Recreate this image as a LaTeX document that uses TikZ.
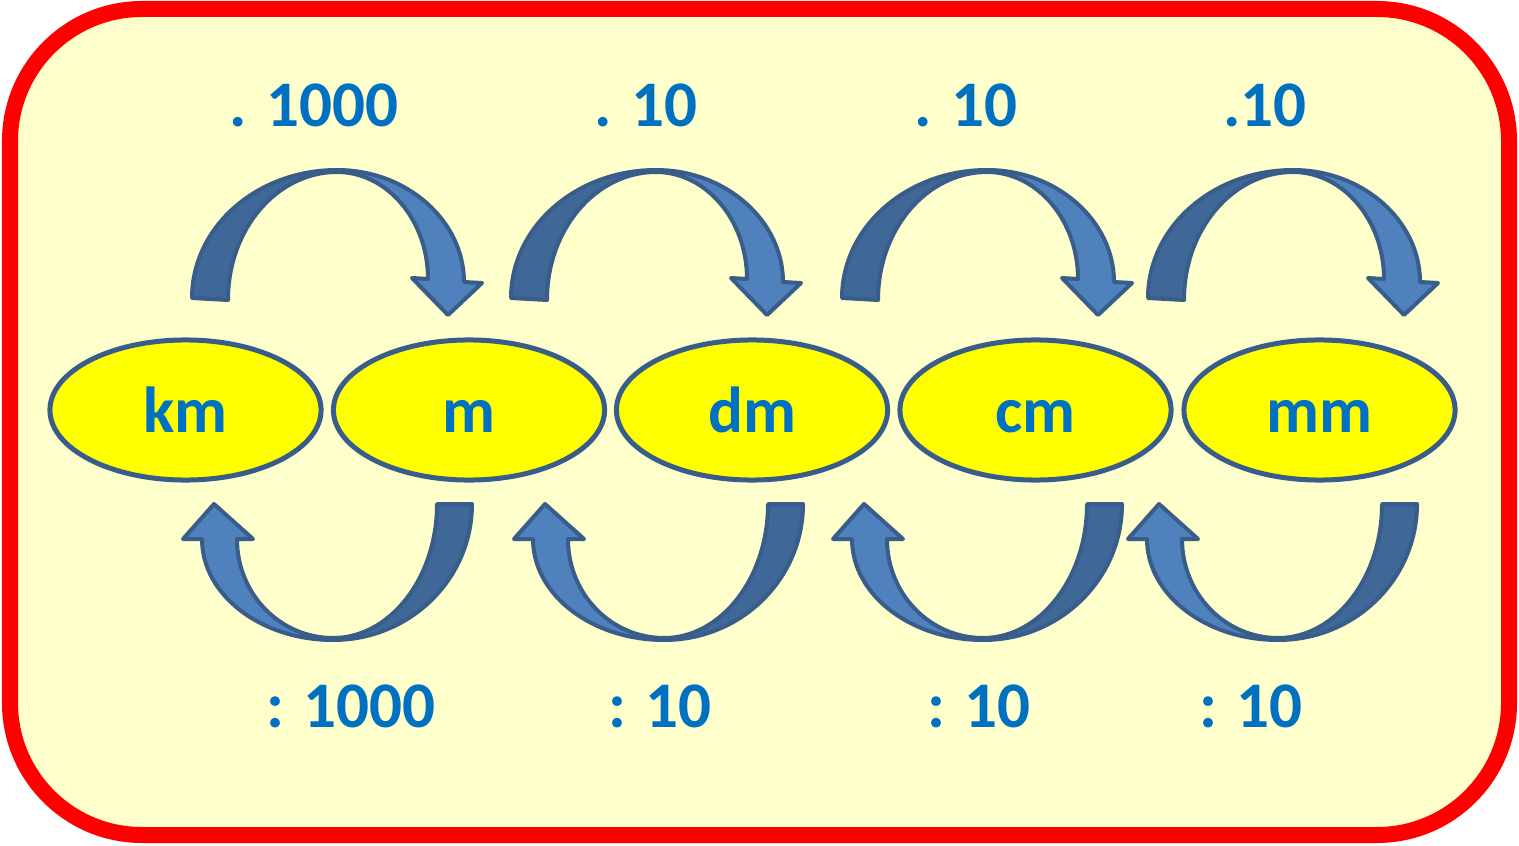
\documentclass[tikz,border=0pt]{standalone}
\usepackage{fontspec}
\setmainfont{Carlito}
\usetikzlibrary{shapes.geometric}
\definecolor{bgyellow}{HTML}{FFFFCC}
\definecolor{frame}{HTML}{FF0000}
\definecolor{arrdark}{HTML}{3F6797}
\definecolor{arrlight}{HTML}{4F81BD}
\definecolor{arrline}{HTML}{385D8A}
\definecolor{txtblue}{HTML}{0070C0}
\definecolor{ellfill}{HTML}{FFFF00}
\tikzset{
  unit/.style={ellipse, draw=arrline, line width=0.05cm, fill=ellfill,
    minimum width=2.71cm, minimum height=1.40cm, inner sep=0pt,
    text height=0.44cm, text depth=0pt,
    text=txtblue, font=\fontsize{18.5}{20}\selectfont\bfseries},
  lbl/.style={text=txtblue, inner sep=0pt, font=\fontsize{18.5}{20}\selectfont\bfseries},
  darkpart/.style={fill=arrdark, draw=arrline, line width=0.04cm, line join=round},
  lightpart/.style={fill=arrlight, draw=arrline, line width=0.04cm, line join=round},
  toparrow/.pic={
    \path[darkpart] (192,298) .. controls (192,227) and (257,170) .. (337,170)
      -- (337,172) .. controls (277,172) and (228,229) .. (228,300) -- cycle;
    \path[lightpart] (337,170) .. controls (407,170) and (464,221) .. (464,282)
      -- (482,283) -- (448,315) -- (412,278) -- (428,279)
      .. controls (428,220) and (387,172) .. (337,172) -- cycle;
  },
  botarrow/.pic={
    \path[lightpart] (333,640) .. controls (261,640) and (202,595) .. (202,539)
      -- (183,539) -- (214,504) -- (253,539) -- (237,539)
      .. controls (237,594) and (280,638) .. (333,638) -- cycle;
    \path[darkpart] (472,504) -- (437,504) .. controls (437,578) and (390,638) .. (333,638)
      -- (333,640) .. controls (410,640) and (472,579) .. (472,504) -- cycle;
  }
}
\begin{document}
\begin{tikzpicture}[x=0.01cm, y=-0.01cm]
\useasboundingbox (0,0) rectangle (1519,846);
\draw[draw=frame, fill=bgyellow, line width=0.16cm, rounded corners=1.32cm] (10,9) rectangle (1509,835);

\pic at (0,0) {toparrow};
\pic at (319,0) {toparrow};
\pic at (650,0) {toparrow};
\pic at (956,0) {toparrow};

\pic at (0,0) {botarrow};
\pic at (331,0) {botarrow};
\pic at (650,0) {botarrow};
\pic at (945,0) {botarrow};

\node[unit] (km) at (185.5,410) {km};
\node[unit] (m) at (469,410) {m};
\node[unit] (dm) at (752,410) {dm};
\node[unit] (cm) at (1035.5,410) {cm};
\node[unit] (mm) at (1319.5,410) {mm};

\node[lbl] (t1) at (314,105) {. 1000};
\node[lbl] (t2) at (646,105) {. 10};
\node[lbl] (t3) at (966,105) {. 10};
\node[lbl] (t4) at (1265,105) {.10};

\node[lbl] (b1) at (351,706) {: 1000};
\node[lbl] (b2) at (660,706) {: 10};
\node[lbl] (b3) at (979,706) {: 10};
\node[lbl] (b4) at (1251,706) {: 10};
\end{tikzpicture}
\end{document}
